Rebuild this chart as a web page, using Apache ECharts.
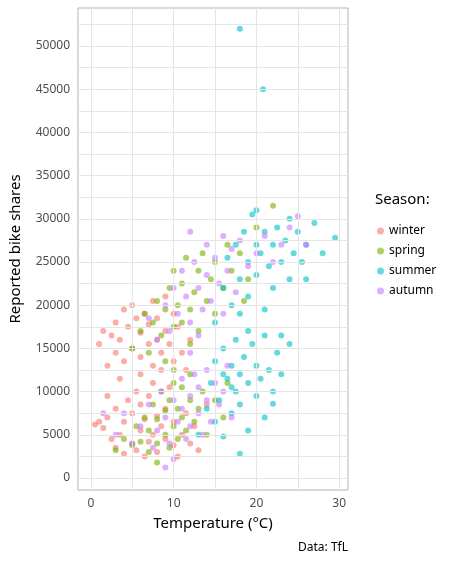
<!DOCTYPE html>
<html><head><meta charset="utf-8">
<script src="https://cdn.jsdelivr.net/npm/echarts@6/dist/echarts.min.js"></script>
<style>html,body{margin:0;background:#fff}#c{width:474px;height:568px}</style>
</head><body><div id="c"></div>
<script>
// [temperature °C, shares in thousands]
const winter = [[0.5,6.2],[1,6.5],[1.5,5.8],[2,7],[2.5,4.5],[3,3.5],[3,8],[3.5,5],[4,2.8],[4,6.5],[4.5,9],[5,4],[5,7.5],[5.5,3.2],[5.5,10],[6,5.5],[6,8.5],[6.5,2.5],[6.5,6.8],[7,4.2],[7,9.5],[7.5,5],[7.5,11],[8,3],[8,7.2],[8.5,6],[8.5,12.5],[9,4.5],[9,8],[9.5,10.5],[10,3.8],[10,6.5],[10.5,2.5],[11,5],[11.5,7.5],[12,4],[12.5,6],[13,3.2],[14,8.5],[3.5,11.5],[2,9.5],[6,12],
  [1,15.5],[1.5,17],[2,13],[2.5,16.5],[3,18],[3,14.5],[3.5,16],[4,19.5],[4,13.5],[4.5,17.5],[5,15],[5,20],[5.5,18.5],[6,14],[6,16.8],[6.5,19],[7,15.5],[7,17.8],[7.5,13],[7.5,20.5],[8,16],[8,18.5],[8.5,14.5],[9,17],[9,21],[9.5,15.5],[10,19],[10,13.5],[10.5,17.5],[11,14.5],[11.5,12.5],[12,16]];
const spring = [[3,3.2],[4,4.5],[5,3.8],[5.5,6],[6,4.2],[6.5,7],[7,3],[7,5.5],[7.5,8.5],[8,4],[8,6.8],[8.5,10],[9,5],[9,7.8],[9.5,3.5],[9.5,9],[10,6],[10,11],[10.5,4.5],[10.5,8],[11,7],[11,10.5],[11.5,5.5],[12,9],[12,12],[12.5,6.5],[13,8],[13.5,10],[14,5],[15,9],[16,7],[16.5,11],[8,1.8],[10,12.5],
  [5,15],[6,17],[6.5,19],[7,14.5],[7.5,18],[8,20.5],[8.5,16.5],[9,19.5],[9.5,22],[10,17.5],[10,24],[10.5,20],[11,18],[11,22.5],[11.5,25.5],[12,19.5],[12.5,21.5],[13,24],[13,17],[13.5,26],[14,20.5],[14.5,23],[15,25],[15,19],[16,22],[16.5,27],[17,24],[18,26],[19,23],[20,29],[22,31.5],[18.5,20.5],[12,15.5],[9,13.5]];
const summer = [[13,5],[14,8],[14.5,11],[15,6.5],[15,13.5],[15.5,9],[16,15],[16,4.8],[16.5,11.5],[17,7.5],[17,13],[17.5,10],[17.5,16],[18,12],[18,8.5],[18.5,14],[19,11],[19,5.5],[19.5,15.5],[20,9.5],[20,13],[20.5,11.5],[21,16.5],[21,7],[21.5,12.5],[22,10],[22.5,14.5],[23,12],[24,15.5],[22,8.6],[18,2.8],[19,17],[23,16.5],[17,10.5],[16,12],
  [15,18],[16,22],[16.5,25.5],[17,20],[17.5,27],[18,23],[18,19],[18.5,28.5],[19,25],[19,21],[19.5,30.5],[20,27],[20,23.5],[20.5,26],[21,28.5],[21,19.5],[21.5,24.5],[22,27],[22,22],[22.5,29],[23,25],[23.5,27.5],[24,23],[24.5,26],[25,28.5],[25.5,25],[26,27],[27,29.5],[28,26],[29.5,27.8],[24,30],[20,31],[18,52],[20.8,45],[26,23]];
const autumn = [[3,5],[4,7.5],[5,4],[6,6],[7,8.5],[7.5,3.5],[8,5.5],[8.5,10],[9,7],[9.5,4],[10,9],[10,2.2],[10.5,6.5],[11,11.5],[11,8],[11.5,4.5],[12,9.5],[12,6],[12.5,12],[13,7.5],[13,10.5],[13.5,5],[14,9],[14,12.5],[14.5,6.5],[15,11],[15.5,8.5],[16,10],[16.5,13],[17,7],[1.5,7.5],[9,1.2],[12,14.5],
  [7,18.5],[8,16],[9,20],[9.5,17],[10,22],[10.5,19],[11,24],[11.5,21],[12,18],[12.5,25],[13,22],[13.5,19.5],[14,27],[14,23.5],[14.5,20.5],[15,25.5],[15.5,22.5],[16,28],[16,19],[16.5,24],[17,26.5],[17.5,21.5],[18,27.5],[19,24.5],[20,26],[21,28],[22,25],[23,27],[24,29],[25,30.3],[26,27],[12,28.5],[13,16.5]];

const seasons = ['winter', 'spring', 'summer', 'autumn'];
const colors = ['#F8766D', '#7CAE00', '#00BFC4', '#C77CFF'];
const xTicks = [0, 10, 20, 30];
const yTicks = [0, 5000, 10000, 15000, 20000, 25000, 30000, 35000, 40000, 45000, 50000];

const font = 'Noto Sans';
let myChart = echarts.init(document.getElementById('c'));
let series = [winter, spring, summer, autumn].map((d, i) => ({
  name: seasons[i],
  type: 'scatter',
  symbolSize: 6,
  itemStyle: { color: colors[i], opacity: 0.6 },
  data: d.map(p => [p[0], p[1] * 1000])
}));
let axisCommon = {
  axisLine: { show: false },
  axisLabel: { color: '#4d4d4d', fontFamily: font, fontSize: 12, formatter: v => String(v) },
  splitLine: { show: false },
  nameTextStyle: { color: '#000', fontFamily: font, fontSize: 15 }
};
let option = {
  animation: false,
  textStyle: { fontFamily: font },
  grid: { left: 75, right: 126, top: 8, bottom: 78, show: true, borderColor: '#b3b3b3', borderWidth: 1 },
  xAxis: Object.assign({}, axisCommon, {
    type: 'value', min: -1.55, max: 31.06,
    name: 'Temperature (°C)', nameLocation: 'middle', nameGap: 26,
    axisTick: { show: true, customValues: xTicks, lineStyle: { color: '#b3b3b3' } },
    axisLabel: Object.assign({}, axisCommon.axisLabel, { customValues: xTicks })
  }),
  yAxis: Object.assign({}, axisCommon, {
    type: 'value', min: -1390, max: 54400,
    name: 'Reported bike shares', nameLocation: 'middle', nameGap: 55,
    axisTick: { show: true, customValues: yTicks, lineStyle: { color: '#b3b3b3' } },
    axisLabel: Object.assign({}, axisCommon.axisLabel, { customValues: yTicks })
  }),
  legend: {
    orient: 'vertical', left: 372, top: 220, icon: 'circle', itemWidth: 7, itemHeight: 7, itemGap: 8,
    data: seasons,
    textStyle: { fontFamily: font, fontSize: 12, color: '#000' }
  },
  graphic: [
    { type: 'text', left: 375, top: 192, style: { text: 'Season:', font: '15px "Noto Sans"', fill: '#000' } },
    { type: 'text', right: 126, top: 542, style: { text: 'Data: TfL', font: '12px "Noto Sans"', fill: '#000' } }
  ],
  series: series.concat([{
    type: 'line', silent: true, data: [],
    markLine: {
      silent: true, symbol: 'none', label: { show: false },
      lineStyle: { color: '#e5e5e5', type: 'solid', width: 1 },
      data: xTicks.concat([5, 15, 25]).map(v => ({ xAxis: v }))
        .concat(yTicks.concat(yTicks.map(v => v + 2500)).map(v => ({ yAxis: v })))
    },
    z: 0
  }])
};
myChart.setOption(option);
</script></body></html>
